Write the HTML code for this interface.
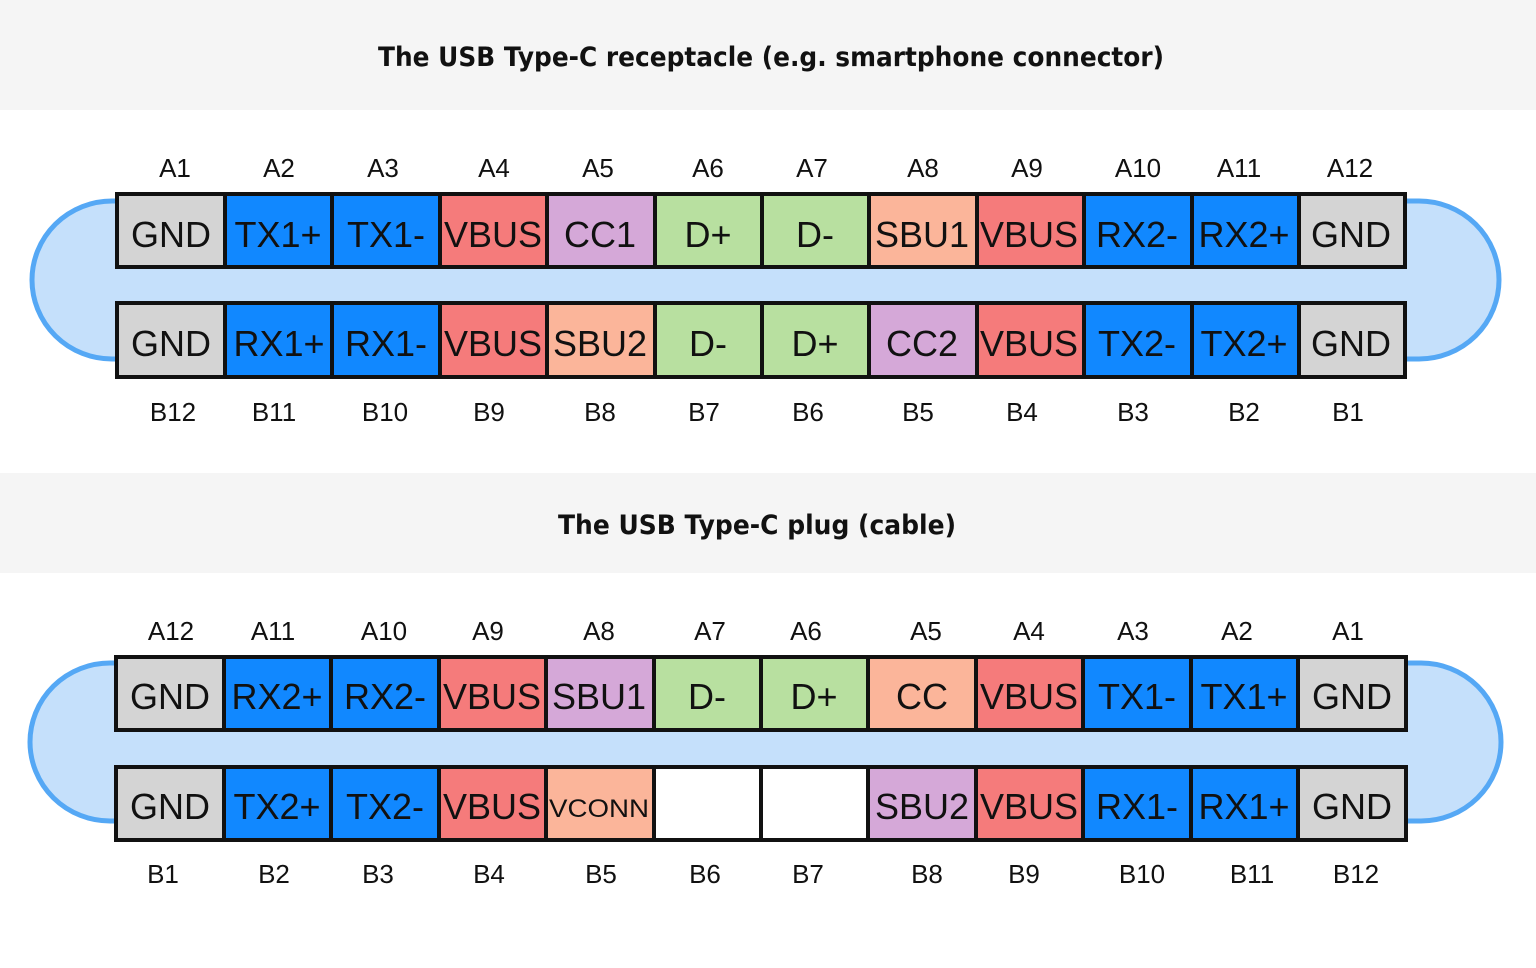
<!DOCTYPE html>
<html><head><meta charset="utf-8"><style>
html,body{margin:0;padding:0;background:#fff}
svg{display:block}
.t{font-family:"Liberation Sans",Arial,sans-serif;font-size:36px;text-anchor:middle;fill:#111}
.p{font-family:"Liberation Sans",Arial,sans-serif;font-size:26px;text-anchor:middle;fill:#111}
.h{font-family:"DejaVu Sans","Liberation Sans",sans-serif;font-weight:bold;font-size:27px;text-anchor:middle;fill:#111}
.G{fill:#d4d4d4}.B{fill:#1188ff}.R{fill:#f57b7b}.P{fill:#d5a8d8}.N{fill:#b8e0a0}.S{fill:#fbb59a}.W{fill:#fff}
rect.c{stroke:#111;stroke-width:4}
</style></head><body>
<svg width="1536" height="968" viewBox="0 0 1536 968" xmlns="http://www.w3.org/2000/svg">
<rect x="0" y="0" width="1536" height="110" fill="#f5f5f5"/>
<text class="h" x="771" y="66" textLength="786" lengthAdjust="spacingAndGlyphs">The USB Type-C receptacle (e.g. smartphone connector)</text>
<rect x="0" y="473" width="1536" height="100" fill="#f5f5f5"/>
<text class="h" x="757" y="534" textLength="398" lengthAdjust="spacingAndGlyphs">The USB Type-C plug (cable)</text>

<!-- top diagram -->
<rect x="32" y="201" width="1467" height="158" rx="80" ry="80" fill="#c5e0fb" stroke="#55a8f5" stroke-width="5"/>
<g>
<rect class="c G" x="117" y="194" width="108" height="73"/><rect class="c B" x="225" y="194" width="107" height="73"/><rect class="c B" x="332" y="194" width="108" height="73"/><rect class="c R" x="440" y="194" width="107" height="73"/><rect class="c P" x="547" y="194" width="108" height="73"/><rect class="c N" x="655" y="194" width="107" height="73"/><rect class="c N" x="762" y="194" width="107" height="73"/><rect class="c S" x="869" y="194" width="108" height="73"/><rect class="c R" x="977" y="194" width="107" height="73"/><rect class="c B" x="1084" y="194" width="108" height="73"/><rect class="c B" x="1192" y="194" width="107" height="73"/><rect class="c G" x="1299" y="194" width="106" height="73"/>
<rect class="c G" x="117" y="303" width="108" height="74"/><rect class="c B" x="225" y="303" width="107" height="74"/><rect class="c B" x="332" y="303" width="108" height="74"/><rect class="c R" x="440" y="303" width="107" height="74"/><rect class="c S" x="547" y="303" width="108" height="74"/><rect class="c N" x="655" y="303" width="107" height="74"/><rect class="c N" x="762" y="303" width="107" height="74"/><rect class="c P" x="869" y="303" width="108" height="74"/><rect class="c R" x="977" y="303" width="107" height="74"/><rect class="c B" x="1084" y="303" width="108" height="74"/><rect class="c B" x="1192" y="303" width="107" height="74"/><rect class="c G" x="1299" y="303" width="106" height="74"/>
</g>
<g class="t">
<text class="t" x="171" y="247">GND</text><text class="t" x="278" y="247">TX1+</text><text class="t" x="386" y="247">TX1-</text><text class="t" x="493" y="247">VBUS</text><text class="t" x="600" y="247">CC1</text><text class="t" x="708" y="247">D+</text><text class="t" x="815" y="247">D-</text><text class="t" x="922" y="247">SBU1</text><text class="t" x="1029" y="247">VBUS</text><text class="t" x="1137" y="247">RX2-</text><text class="t" x="1244" y="247">RX2+</text><text class="t" x="1351" y="247">GND</text>
<text class="t" x="171" y="356">GND</text><text class="t" x="279" y="356">RX1+</text><text class="t" x="386" y="356">RX1-</text><text class="t" x="493" y="356">VBUS</text><text class="t" x="600" y="356">SBU2</text><text class="t" x="708" y="356">D-</text><text class="t" x="815" y="356">D+</text><text class="t" x="922" y="356">CC2</text><text class="t" x="1029" y="356">VBUS</text><text class="t" x="1137" y="356">TX2-</text><text class="t" x="1244" y="356">TX2+</text><text class="t" x="1351" y="356">GND</text>
</g>
<text class="p" x="175" y="177">A1</text><text class="p" x="279" y="177">A2</text><text class="p" x="383" y="177">A3</text><text class="p" x="494" y="177">A4</text><text class="p" x="598" y="177">A5</text><text class="p" x="708" y="177">A6</text><text class="p" x="812" y="177">A7</text><text class="p" x="923" y="177">A8</text><text class="p" x="1027" y="177">A9</text><text class="p" x="1138" y="177">A10</text><text class="p" x="1239" y="177">A11</text><text class="p" x="1350" y="177">A12</text>
<text class="p" x="173" y="421">B12</text><text class="p" x="274" y="421">B11</text><text class="p" x="385" y="421">B10</text><text class="p" x="489" y="421">B9</text><text class="p" x="600" y="421">B8</text><text class="p" x="704" y="421">B7</text><text class="p" x="808" y="421">B6</text><text class="p" x="918" y="421">B5</text><text class="p" x="1022" y="421">B4</text><text class="p" x="1133" y="421">B3</text><text class="p" x="1244" y="421">B2</text><text class="p" x="1348" y="421">B1</text>

<!-- bottom diagram -->
<rect x="30" y="663" width="1471" height="158" rx="80" ry="80" fill="#c5e0fb" stroke="#55a8f5" stroke-width="5"/>
<g>
<rect class="c G" x="116" y="657" width="108" height="73"/><rect class="c B" x="224" y="657" width="107" height="73"/><rect class="c B" x="331" y="657" width="108" height="73"/><rect class="c R" x="439" y="657" width="107" height="73"/><rect class="c P" x="546" y="657" width="108" height="73"/><rect class="c N" x="654" y="657" width="107" height="73"/><rect class="c N" x="761" y="657" width="107" height="73"/><rect class="c S" x="868" y="657" width="108" height="73"/><rect class="c R" x="976" y="657" width="107" height="73"/><rect class="c B" x="1083" y="657" width="108" height="73"/><rect class="c B" x="1191" y="657" width="107" height="73"/><rect class="c G" x="1298" y="657" width="108" height="73"/>
<rect class="c G" x="116" y="767" width="108" height="73"/><rect class="c B" x="224" y="767" width="107" height="73"/><rect class="c B" x="331" y="767" width="108" height="73"/><rect class="c R" x="439" y="767" width="107" height="73"/><rect class="c S" x="546" y="767" width="108" height="73"/><rect class="c W" x="654" y="767" width="107" height="73"/><rect class="c W" x="761" y="767" width="107" height="73"/><rect class="c P" x="868" y="767" width="108" height="73"/><rect class="c R" x="976" y="767" width="107" height="73"/><rect class="c B" x="1083" y="767" width="108" height="73"/><rect class="c B" x="1191" y="767" width="107" height="73"/><rect class="c G" x="1298" y="767" width="108" height="73"/>
</g>
<text class="t" x="170" y="709">GND</text><text class="t" x="277" y="709">RX2+</text><text class="t" x="385" y="709">RX2-</text><text class="t" x="492" y="709">VBUS</text><text class="t" x="599" y="709">SBU1</text><text class="t" x="707" y="709">D-</text><text class="t" x="814" y="709">D+</text><text class="t" x="922" y="709">CC</text><text class="t" x="1029" y="709">VBUS</text><text class="t" x="1137" y="709">TX1-</text><text class="t" x="1244" y="709">TX1+</text><text class="t" x="1352" y="709">GND</text>
<text class="t" x="170" y="819">GND</text><text class="t" x="277" y="819">TX2+</text><text class="t" x="385" y="819">TX2-</text><text class="t" x="492" y="819">VBUS</text><text class="t" x="599" y="817" style="font-size:25px" textLength="100" lengthAdjust="spacingAndGlyphs">VCONN</text><text class="t" x="922" y="819">SBU2</text><text class="t" x="1029" y="819">VBUS</text><text class="t" x="1137" y="819">RX1-</text><text class="t" x="1244" y="819">RX1+</text><text class="t" x="1352" y="819">GND</text>
<text class="p" x="171" y="640">A12</text><text class="p" x="273" y="640">A11</text><text class="p" x="384" y="640">A10</text><text class="p" x="488" y="640">A9</text><text class="p" x="599" y="640">A8</text><text class="p" x="710" y="640">A7</text><text class="p" x="806" y="640">A6</text><text class="p" x="926" y="640">A5</text><text class="p" x="1029" y="640">A4</text><text class="p" x="1133" y="640">A3</text><text class="p" x="1237" y="640">A2</text><text class="p" x="1348" y="640">A1</text>
<text class="p" x="163" y="883">B1</text><text class="p" x="274" y="883">B2</text><text class="p" x="378" y="883">B3</text><text class="p" x="489" y="883">B4</text><text class="p" x="601" y="883">B5</text><text class="p" x="705" y="883">B6</text><text class="p" x="808" y="883">B7</text><text class="p" x="927" y="883">B8</text><text class="p" x="1024" y="883">B9</text><text class="p" x="1142" y="883">B10</text><text class="p" x="1252" y="883">B11</text><text class="p" x="1356" y="883">B12</text>
</svg>
</body></html>
